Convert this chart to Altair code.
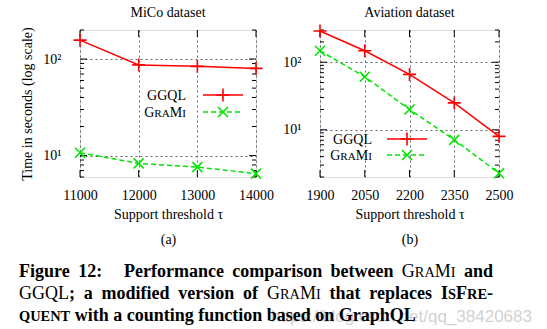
import altair as alt
import pandas as pd

# ---------------- data ----------------
x_mico = [11000, 12000, 13000, 14000]
ggql_mico = [157, 87, 84, 80]
grami_mico = [10.7, 8.3, 7.6, 6.5]

x_avi = [1900, 2050, 2200, 2350, 2500]
ggql_avi = [290, 148, 66, 25, 8.0]
grami_avi = [148, 61, 20, 7.1, 2.27]

panel_titles = ["MiCo dataset", "Aviation dataset"]
panel_tags = ["(a)", "(b)"]
x_title = "Support threshold τ"
y_title = "Time in seconds (log scale)"
y_tick_values = [10, 100]
y_tick_labels = ["10¹", "10²"]

caption_lines = [
    [[("Figure", "b")], [("12:", "b")], [("Performance", "b")], [("comparison", "b")],
     [("between", "b")], [("GraMi", "rsc")], [("and", "b")]],
    [[("GGQL", "r"), (";", "b")], [("a", "b")], [("modified", "b")], [("version", "b")],
     [("of", "b")], [("GraMi", "rsc")], [("that", "b")], [("replaces", "b")], [("IsFre-", "bsc")]],
    [[("quent", "bsc")], [("with", "b")], [("a", "b")], [("counting", "b")], [("function", "b")],
     [("based", "b")], [("on", "b")], [("GraphQL", "b")]],
]
watermark = "https://blog.csdn.net/qq_38420683"

# ---------------- styles ----------------
FONT = "Liberation Serif"
RED = "#ff0000"
GREEN = "#00e600"
PLUS = "M-1,0L1,0M0,-1L0,1"
CROSS = "M-1,-1L1,1M-1,1L1,-1"
W_A, W_B_, H = 176, 179, 147
A_LEFT, A_TOP = 79, 26       # page position of panel (a) plot area
SC = 0.8

UP = "ABCDEFGHIJKLMNOPQRSTUVWXYZ"
LO = "abcdefghijklmnopqrstuvwxyz"


def mkw(upper, lower, extra):
    d = dict(zip(UP, upper))
    d.update(zip(LO, lower))
    d.update({str(i): 500 for i in range(10)})
    d.update(extra)
    return d


WR = mkw([722, 667, 667, 722, 611, 556, 722, 722, 333, 389, 722, 611, 889, 722, 722, 556, 722, 667, 556, 611, 722, 722, 944, 722, 722, 611],
         [444, 500, 444, 500, 444, 333, 500, 500, 278, 278, 500, 278, 778, 500, 500, 500, 500, 333, 389, 278, 500, 500, 722, 500, 500, 444],
         {" ": 250, ";": 278, ":": 278, "-": 333, ".": 250})
WB = mkw([722, 667, 722, 722, 667, 611, 778, 778, 389, 500, 778, 667, 944, 722, 778, 611, 778, 722, 556, 667, 722, 722, 1000, 722, 722, 667],
         [500, 556, 444, 556, 444, 333, 500, 556, 278, 333, 556, 278, 833, 556, 500, 556, 556, 444, 389, 333, 556, 500, 722, 500, 500, 444],
         {" ": 250, ";": 333, ":": 333, "-": 333, ".": 250})


def expand(word):
    out = []
    for text, style in word:
        bold = style.startswith("b")
        if style.endswith("sc"):
            cur, cur_small = "", None
            for ch in text:
                small = ch.islower()
                if cur and small != cur_small:
                    out.append((cur, bold, SC if cur_small else 1.0))
                    cur = ""
                cur += ch.upper() if small else ch
                cur_small = small
            if cur:
                out.append((cur, bold, SC if cur_small else 1.0))
        else:
            out.append((text, bold, 1.0))
    return out


def run_w(run, size):
    t, b, f = run
    tab = WB if b else WR
    return sum(tab.get(c, 500) for c in t) * size * f / 1000


def layout(words, x0, y, size, x1=None, weights=None, right=None):
    wr = [expand(w) for w in words]
    ww = [sum(run_w(r, size) for r in w) for w in wr]
    n = len(words) - 1
    gw = weights or [1] * n
    if x1 is not None:
        extra = (x1 - x0) - sum(ww)
        gaps = [extra * g / sum(gw) for g in gw]
    else:
        gaps = [250 * size / 1000] * n
    if right is not None:
        x0 = right - (sum(ww) + sum(gaps))
    segs, x = [], x0
    for i, w in enumerate(wr):
        for r in w:
            segs.append(dict(px=x, py=y, t=r[0], fs=size * r[2], b=r[1]))
            x += run_w(r, size)
        if i < n:
            x += gaps[i]
    return segs


def text_layers(segs, font=FONT):
    df = pd.DataFrame(segs)
    layers = []
    for bold in [True, False]:
        sub = df[df["b"] == bold]
        if len(sub) == 0:
            continue
        layers.append(
            alt.Chart(sub).mark_text(align="left", baseline="alphabetic", font=font,
                                     fontWeight="bold" if bold else "normal", color="black")
            .encode(x=alt.X("px:Q", scale=None, axis=None),
                    y=alt.Y("py:Q", scale=None, axis=None),
                    size=alt.Size("fs:Q", scale=None, legend=None),
                    text="t:N"))
    return layers


def panel(xs, g, m, xdom, ydom, width, title, tag, show_ytitle, minor, leg, extra_layers):
    xscale = alt.Scale(domain=xdom, nice=False, zero=False)
    yscale = alt.Scale(type="log", domain=ydom, nice=False)
    lab_expr = " : ".join(f"datum.value == {v} ? '{l}'" for v, l in zip(y_tick_values, y_tick_labels)) + " : ''"
    xaxis = alt.Axis(values=xs, format="d", grid=True, gridDash=[2, 3], gridColor="#666",
                     ticks=False, domain=False, labelFont=FONT, labelFontSize=14,
                     labelColor="black", labelPadding=11, labelFlush=False, labelOverlap=False,
                     title=[x_title, tag],
                     titleFont=FONT, titleFontSize=14, titleFontWeight="normal",
                     titleColor="black", titlePadding=5, titleLineHeight=25)
    yargs = dict(values=y_tick_values, labelExpr=lab_expr, grid=True, gridDash=[2, 3],
                 gridColor="#666", ticks=False, domain=False, labelFont=FONT,
                 labelFontSize=14, labelColor="black", labelPadding=19,
                 labelFlush=False, labelOverlap=False)
    if show_ytitle:
        yargs.update(title=y_title, titleFont=FONT, titleFontSize=14,
                     titleFontWeight="normal", titleColor="black", titlePadding=8)
    else:
        yargs.update(title=None)
    yaxis = alt.Axis(**yargs)
    X = alt.X("x:Q", scale=xscale, axis=xaxis)
    Y = alt.Y("y:Q", scale=yscale, axis=yaxis)

    dg = pd.DataFrame({"x": xs, "y": g})
    dm = pd.DataFrame({"x": xs, "y": m})
    line_g = alt.Chart(dg).mark_line(color=RED, strokeWidth=1.5).encode(x=X, y=Y)
    pts_g = alt.Chart(dg).mark_point(shape=PLUS, size=169, color=RED, filled=False,
                                     strokeWidth=1.6, opacity=1).encode(x=X, y=Y)
    line_m = alt.Chart(dm).mark_line(color=GREEN, strokeWidth=1.5, strokeDash=[5, 3]).encode(x=X, y=Y)
    pts_m = alt.Chart(dm).mark_point(shape=CROSS, size=100, color=GREEN, filled=False,
                                     strokeWidth=1.6, opacity=1).encode(x=X, y=Y)

    # inward tick marks (gnuplot style)
    dmin = pd.DataFrame({"y": minor})
    dmaj = pd.DataFrame({"y": y_tick_values})
    dx = pd.DataFrame({"x": xs})
    tk = []
    for d, L in [(dmin, 4), (dmaj, 7)]:
        tk.append(alt.Chart(d).mark_rule(color="black", strokeWidth=1)
                  .encode(y=Y, x=alt.value(0), x2=alt.value(L)))
        tk.append(alt.Chart(d).mark_rule(color="black", strokeWidth=1)
                  .encode(y=Y, x=alt.value(width), x2=alt.value(width - L)))
    tk.append(alt.Chart(dx).mark_rule(color="black", strokeWidth=1)
              .encode(x=X, y=alt.value(H), y2=alt.value(H - 7)))
    tk.append(alt.Chart(dx).mark_rule(color="black", strokeWidth=1)
              .encode(x=X, y=alt.value(0), y2=alt.value(7)))

    # legend (label left, sample right)
    lx_right, s0, s1, sm, y1, y2 = leg
    one = pd.DataFrame({"k": [0]})
    legl = text_layers(layout([[("GGQL", "r")]], 0, y1 + 5, 14, right=lx_right)
                       + layout([[("GraMi", "rsc")]], 0, y2 + 5, 14, right=lx_right))
    leg_layers = [
        alt.Chart(one).mark_rule(color=RED, strokeWidth=1.5)
        .encode(x=alt.value(s0), x2=alt.value(s1), y=alt.value(y1)),
        alt.Chart(one).mark_point(shape=PLUS, size=169, color=RED, filled=False, strokeWidth=1.6, opacity=1)
        .encode(x=alt.value(sm), y=alt.value(y1)),
        alt.Chart(one).mark_rule(color=GREEN, strokeWidth=1.5, strokeDash=[5, 3])
        .encode(x=alt.value(s0), x2=alt.value(s1), y=alt.value(y2)),
        alt.Chart(one).mark_point(shape=CROSS, size=100, color=GREEN, filled=False, strokeWidth=1.6, opacity=1)
        .encode(x=alt.value(sm), y=alt.value(y2)),
    ]

    # panel title as a text mark above the frame
    ttl = alt.Chart(pd.DataFrame({"t": [title]})).mark_text(
        align="center", baseline="alphabetic", font=FONT, fontSize=14, color="black"
    ).encode(x=alt.value(width / 2), y=alt.value(-13), text="t:N")

    layers = tk + [line_m, pts_m, line_g, pts_g] + leg_layers + legl + [ttl] + extra_layers
    return alt.layer(*layers).properties(width=width, height=H)


# caption (positions relative to panel (a) plot origin)
cap_segs = []
cap_size = 18
base = [273, 295, 317]
cap_segs += layout(caption_lines[0], 18 - A_LEFT, base[0] - A_TOP, cap_size, x1=492 - A_LEFT,
                   weights=[1, 2.6, 1, 1, 1, 1])
cap_segs += layout(caption_lines[1], 18 - A_LEFT, base[1] - A_TOP, cap_size, x1=492 - A_LEFT)
cap_segs += layout(caption_lines[2], 18 - A_LEFT, base[2] - A_TOP, cap_size)

wm = alt.Chart(pd.DataFrame({"t": [watermark]})).mark_text(
    align="right", baseline="alphabetic", font="Liberation Sans", fontSize=17, color="#d2d2d2"
).encode(x=alt.value(531 - A_LEFT), y=alt.value(318 - A_TOP), text="t:N")

minor_a = [6, 7, 8, 9, 20, 30, 40, 50, 60, 70, 80, 90, 200]
minor_b = [2, 3, 4, 5, 6, 7, 8, 9, 20, 30, 40, 50, 60, 70, 80, 90, 200, 300]

pa = panel(x_mico, ggql_mico, grami_mico, [11000, 14000], [6, 200], W_A,
           panel_titles[0], panel_tags[0], True, minor_a,
           (106, 123, 163, 143, 65, 82),
           [wm] + text_layers(cap_segs))
pb = panel(x_avi, ggql_avi, grami_avi, [1900, 2500], [2, 300], W_B_,
           panel_titles[1], panel_tags[1], False, minor_b,
           (52, 67, 107, 87, 109, 125), [])

chart = alt.hconcat(pa, pb, spacing=64, bounds="flush").properties(
    padding={"left": 18, "top": 5, "right": 2, "bottom": 2}
).configure_view(stroke="black", strokeWidth=1).configure(background="white")

chart.save("out.html", embed_options={"renderer": "svg", "actions": False})
